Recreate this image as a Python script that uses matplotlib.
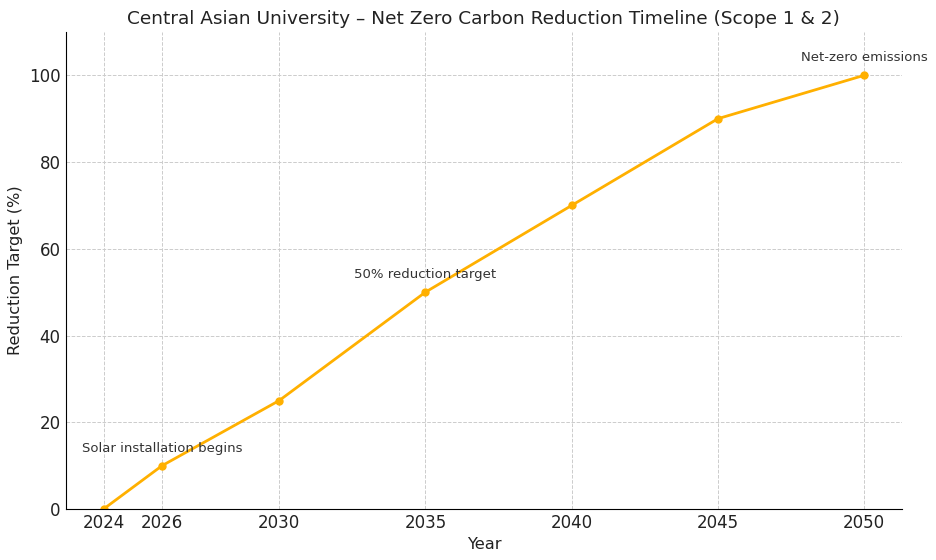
import matplotlib
matplotlib.use("Agg")
import matplotlib.pyplot as plt

years = [2024, 2026, 2030, 2035, 2040, 2045, 2050]
reduction = [0, 10, 25, 50, 70, 90, 100]
notes = {2026: "Solar installation begins", 2035: "50% reduction target", 2050: "Net-zero emissions"}

fig, ax = plt.subplots(figsize=(9.36, 5.6), dpi=100)
ax.plot(years, reduction, color="#FFB000", linewidth=2, marker="o", markersize=5)

for yr, txt in notes.items():
    val = reduction[years.index(yr)]
    ax.annotate(txt, (yr, val), xytext=(0, 10), textcoords="offset points",
                ha="center", fontsize=9.5, color="#333333")

ax.set_xticks(years)
ax.set_ylim(0, 110)
ax.set_title("Central Asian University – Net Zero Carbon Reduction Timeline (Scope 1 & 2)",
             fontsize=13.3, color="#222222")
ax.set_xlabel("Year", fontsize=11.7, color="#222222")
ax.set_ylabel("Reduction Target (%)", fontsize=11.7, color="#222222")
ax.grid(True, linestyle="--", color="#cccccc", linewidth=0.7)
ax.tick_params(length=0, labelsize=12, labelcolor="#222222")
ax.spines["top"].set_visible(False)
ax.spines["right"].set_visible(False)

fig.subplots_adjust(left=0.07, right=0.964, top=0.943, bottom=0.091)
fig.savefig("out.png")
